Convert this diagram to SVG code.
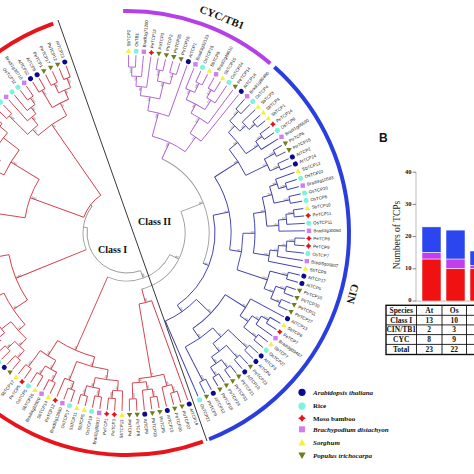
<svg xmlns="http://www.w3.org/2000/svg" width="474" height="474" viewBox="0 0 474 474">
<style>
.br{fill:none;stroke-width:.9}
.R{stroke:#d23c4b}.P{stroke:#b15fd6}.B{stroke:#3a3cae}.G{stroke:#9b9b9b}
.lv text{font-family:"Liberation Sans",Arial,sans-serif;font-size:4.4px;fill:#222}
.lv .lf{text-anchor:end}
.bs text{font-family:"Liberation Sans",Arial,sans-serif;font-size:3px;fill:#555;text-anchor:end}
.bs .bf{text-anchor:start}
.ser{font-family:"Liberation Serif","Times New Roman",serif;font-weight:bold;fill:#111}
.tb text{font-family:"Liberation Serif","Times New Roman",serif;font-weight:bold;font-size:7.5px;text-anchor:middle;fill:#111}
.lg text{font-family:"Liberation Serif","Times New Roman",serif;font-weight:bold;font-size:7px;fill:#111}
</style>
<defs>
<circle id="at" r="2.5" fill="#0b0b8e"/>
<circle id="os" r="2.5" fill="#7df2dc"/>
<path id="pe" d="M0-2.9L1.2-1.2L2.9 0L1.2 1.2L0 2.9L-1.2 1.2L-2.9 0L-1.2-1.2Z" fill="#e3141c"/>
<rect id="bd" x="-2.2" y="-2.2" width="4.4" height="4.4" fill="#d17df0"/>
<path id="sb" d="M0-2.8L2.7 2H-2.7Z" fill="#f2f23a"/>
<path id="pt" d="M-2.7-2H2.7L0 2.8Z" fill="#6d7e1b"/>
</defs>
<rect width="474" height="474" fill="#fff"/>
<g id="tree" transform="translate(127 233)">
<g id="branches" class="br">
<g class="G">
<circle r="82" pathLength="360" stroke-dasharray="86.6 360" transform="rotate(-64.85)"/>
<circle r="58" pathLength="360" stroke-dasharray="96.73 360" transform="rotate(-21.55)"/>
<circle r="48" pathLength="360" stroke-dasharray="86.93 360" transform="rotate(26.8)"/>
<circle r="40" pathLength="360" stroke-dasharray="117.43 360" transform="rotate(70.27)"/>
<circle r="44" pathLength="360" stroke-dasharray="59.77 360" transform="rotate(157.83)"/>
<path transform="rotate(-21.55)" d="M58 0H82"/>
<path transform="rotate(26.8)" d="M48 0H58"/>
<path transform="rotate(70.27)" d="M40 0H48"/>
<path transform="rotate(187.7)" d="M40 0H44"/>
</g>
<g class="P">
<path transform="rotate(-89.5)" d="M166 0H178"/>
<path transform="rotate(-87.1)" d="M166 0H178"/>
<path transform="rotate(-84.7)" d="M157 0H178"/>
<path transform="rotate(-82.3)" d="M147 0H178"/>
<path transform="rotate(-79.9)" d="M166 0H178"/>
<path transform="rotate(-77.5)" d="M166 0H178"/>
<path transform="rotate(-75.1)" d="M166 0H178"/>
<path transform="rotate(-72.7)" d="M166 0H178"/>
<path transform="rotate(-70.3)" d="M124 0H178"/>
<path transform="rotate(-67.9)" d="M156 0H178"/>
<path transform="rotate(-65.5)" d="M166 0H178"/>
<path transform="rotate(-63.1)" d="M166 0H178"/>
<path transform="rotate(-60.7)" d="M166 0H178"/>
<path transform="rotate(-58.3)" d="M166 0H178"/>
<path transform="rotate(-55.9)" d="M157 0H178"/>
<path transform="rotate(-53.5)" d="M136 0H178"/>
<path transform="rotate(-51.1)" d="M118 0H178"/>
<path transform="rotate(-88.3)" d="M157 0H166"/>
<path transform="rotate(-86.5)" d="M147 0H157"/>
<path transform="rotate(-84.4)" d="M138 0H147"/>
<path transform="rotate(-78.7)" d="M155 0H166"/>
<path transform="rotate(-73.9)" d="M155 0H166"/>
<path transform="rotate(-76.3)" d="M138 0H155"/>
<path transform="rotate(-80.35)" d="M124 0H138"/>
<path transform="rotate(-75.33)" d="M100 0H124"/>
<path transform="rotate(-64.3)" d="M156 0H166"/>
<path transform="rotate(-66.1)" d="M146 0H156"/>
<path transform="rotate(-59.5)" d="M157 0H166"/>
<path transform="rotate(-57.7)" d="M146 0H157"/>
<path transform="rotate(-61.9)" d="M136 0H146"/>
<path transform="rotate(-57.7)" d="M118 0H136"/>
<path transform="rotate(-54.4)" d="M100 0H118"/>
<path transform="rotate(-64.85)" d="M82 0H100"/>
<circle r="166" pathLength="360" stroke-dasharray="2.4 360" transform="rotate(-89.5)"/>
<circle r="157" pathLength="360" stroke-dasharray="3.6 360" transform="rotate(-88.3)"/>
<circle r="147" pathLength="360" stroke-dasharray="4.2 360" transform="rotate(-86.5)"/>
<circle r="166" pathLength="360" stroke-dasharray="2.4 360" transform="rotate(-79.9)"/>
<circle r="166" pathLength="360" stroke-dasharray="2.4 360" transform="rotate(-75.1)"/>
<circle r="155" pathLength="360" stroke-dasharray="4.8 360" transform="rotate(-78.7)"/>
<circle r="138" pathLength="360" stroke-dasharray="8.1 360" transform="rotate(-84.4)"/>
<circle r="124" pathLength="360" stroke-dasharray="10.05 360" transform="rotate(-80.35)"/>
<circle r="166" pathLength="360" stroke-dasharray="2.4 360" transform="rotate(-65.5)"/>
<circle r="156" pathLength="360" stroke-dasharray="3.6 360" transform="rotate(-67.9)"/>
<circle r="166" pathLength="360" stroke-dasharray="2.4 360" transform="rotate(-60.7)"/>
<circle r="157" pathLength="360" stroke-dasharray="3.6 360" transform="rotate(-59.5)"/>
<circle r="146" pathLength="360" stroke-dasharray="8.4 360" transform="rotate(-66.1)"/>
<circle r="136" pathLength="360" stroke-dasharray="8.4 360" transform="rotate(-61.9)"/>
<circle r="118" pathLength="360" stroke-dasharray="6.6 360" transform="rotate(-57.7)"/>
<circle r="100" pathLength="360" stroke-dasharray="20.93 360" transform="rotate(-75.33)"/>
</g>
<g class="B">
<path transform="rotate(-48.7)" d="M165 0H178"/>
<path transform="rotate(-46.3)" d="M165 0H178"/>
<path transform="rotate(-43.9)" d="M160 0H178"/>
<path transform="rotate(-41.5)" d="M168 0H178"/>
<path transform="rotate(-39.1)" d="M168 0H178"/>
<path transform="rotate(-36.7)" d="M166 0H178"/>
<path transform="rotate(-34.3)" d="M166 0H178"/>
<path transform="rotate(-31.9)" d="M158 0H178"/>
<path transform="rotate(-29.5)" d="M168 0H178"/>
<path transform="rotate(-27.1)" d="M168 0H178"/>
<path transform="rotate(-24.7)" d="M166 0H178"/>
<path transform="rotate(-22.3)" d="M166 0H178"/>
<path transform="rotate(-19.9)" d="M158 0H178"/>
<path transform="rotate(-17.5)" d="M166 0H178"/>
<path transform="rotate(-15.1)" d="M166 0H178"/>
<path transform="rotate(-12.7)" d="M166 0H178"/>
<path transform="rotate(-10.3)" d="M166 0H178"/>
<path transform="rotate(-7.9)" d="M168 0H178"/>
<path transform="rotate(-5.5)" d="M168 0H178"/>
<path transform="rotate(-3.1)" d="M160 0H178"/>
<path transform="rotate(-0.7)" d="M152 0H178"/>
<path transform="rotate(1.7)" d="M168 0H178"/>
<path transform="rotate(4.1)" d="M168 0H178"/>
<path transform="rotate(6.5)" d="M160 0H178"/>
<path transform="rotate(8.9)" d="M152 0H178"/>
<path transform="rotate(11.3)" d="M144 0H178"/>
<path transform="rotate(13.7)" d="M166 0H178"/>
<path transform="rotate(16.1)" d="M166 0H178"/>
<path transform="rotate(18.5)" d="M168 0H178"/>
<path transform="rotate(20.9)" d="M168 0H178"/>
<path transform="rotate(23.3)" d="M168 0H178"/>
<path transform="rotate(25.7)" d="M168 0H178"/>
<path transform="rotate(28.1)" d="M140 0H178"/>
<path transform="rotate(30.5)" d="M166 0H178"/>
<path transform="rotate(32.9)" d="M166 0H178"/>
<path transform="rotate(35.3)" d="M158 0H178"/>
<path transform="rotate(37.7)" d="M166 0H178"/>
<path transform="rotate(40.1)" d="M166 0H178"/>
<path transform="rotate(42.5)" d="M166 0H178"/>
<path transform="rotate(44.9)" d="M166 0H178"/>
<path transform="rotate(47.3)" d="M166 0H178"/>
<path transform="rotate(49.7)" d="M166 0H178"/>
<path transform="rotate(52.1)" d="M168 0H178"/>
<path transform="rotate(54.5)" d="M168 0H178"/>
<path transform="rotate(56.9)" d="M168 0H178"/>
<path transform="rotate(59.3)" d="M168 0H178"/>
<path transform="rotate(61.7)" d="M166 0H178"/>
<path transform="rotate(64.1)" d="M166 0H178"/>
<path transform="rotate(66.5)" d="M96 0H178"/>
<path transform="rotate(-47.5)" d="M152 0H165"/>
<path transform="rotate(-40.3)" d="M160 0H168"/>
<path transform="rotate(-42.1)" d="M152 0H160"/>
<path transform="rotate(-44.8)" d="M143 0H152"/>
<path transform="rotate(-35.5)" d="M158 0H166"/>
<path transform="rotate(-33.7)" d="M143 0H158"/>
<path transform="rotate(-39.25)" d="M132 0H143"/>
<path transform="rotate(-28.3)" d="M156 0H168"/>
<path transform="rotate(-23.5)" d="M156 0H166"/>
<path transform="rotate(-25.9)" d="M132 0H156"/>
<path transform="rotate(-32.58)" d="M104 0H132"/>
<path transform="rotate(-16.3)" d="M158 0H166"/>
<path transform="rotate(-18.1)" d="M150 0H158"/>
<path transform="rotate(-11.5)" d="M150 0H166"/>
<path transform="rotate(-14.8)" d="M140 0H150"/>
<path transform="rotate(-6.7)" d="M160 0H168"/>
<path transform="rotate(-4.9)" d="M152 0H160"/>
<path transform="rotate(-2.8)" d="M140 0H152"/>
<path transform="rotate(-8.8)" d="M128 0H140"/>
<path transform="rotate(2.9)" d="M160 0H168"/>
<path transform="rotate(4.7)" d="M152 0H160"/>
<path transform="rotate(6.8)" d="M144 0H152"/>
<path transform="rotate(9.05)" d="M128 0H144"/>
<path transform="rotate(0.13)" d="M116 0H128"/>
<path transform="rotate(14.9)" d="M148 0H166"/>
<path transform="rotate(19.7)" d="M158 0H168"/>
<path transform="rotate(24.5)" d="M158 0H168"/>
<path transform="rotate(22.1)" d="M148 0H158"/>
<path transform="rotate(18.5)" d="M116 0H148"/>
<path transform="rotate(9.31)" d="M104 0H116"/>
<path transform="rotate(-11.64)" d="M88 0H104"/>
<path transform="rotate(31.7)" d="M158 0H166"/>
<path transform="rotate(33.5)" d="M150 0H158"/>
<path transform="rotate(38.9)" d="M150 0H166"/>
<path transform="rotate(36.2)" d="M140 0H150"/>
<path transform="rotate(32.15)" d="M116 0H140"/>
<path transform="rotate(43.7)" d="M140 0H166"/>
<path transform="rotate(48.5)" d="M150 0H166"/>
<path transform="rotate(53.3)" d="M158 0H168"/>
<path transform="rotate(58.1)" d="M158 0H168"/>
<path transform="rotate(55.7)" d="M150 0H158"/>
<path transform="rotate(52.1)" d="M140 0H150"/>
<path transform="rotate(47.9)" d="M128 0H140"/>
<path transform="rotate(62.9)" d="M128 0H166"/>
<path transform="rotate(55.4)" d="M116 0H128"/>
<path transform="rotate(43.78)" d="M96 0H116"/>
<path transform="rotate(55.14)" d="M88 0H96"/>
<path transform="rotate(21.75)" d="M82 0H88"/>
<circle r="165" pathLength="360" stroke-dasharray="2.4 360" transform="rotate(-48.7)"/>
<circle r="168" pathLength="360" stroke-dasharray="2.4 360" transform="rotate(-41.5)"/>
<circle r="160" pathLength="360" stroke-dasharray="3.6 360" transform="rotate(-43.9)"/>
<circle r="152" pathLength="360" stroke-dasharray="5.4 360" transform="rotate(-47.5)"/>
<circle r="166" pathLength="360" stroke-dasharray="2.4 360" transform="rotate(-36.7)"/>
<circle r="158" pathLength="360" stroke-dasharray="3.6 360" transform="rotate(-35.5)"/>
<circle r="143" pathLength="360" stroke-dasharray="11.1 360" transform="rotate(-44.8)"/>
<circle r="168" pathLength="360" stroke-dasharray="2.4 360" transform="rotate(-29.5)"/>
<circle r="166" pathLength="360" stroke-dasharray="2.4 360" transform="rotate(-24.7)"/>
<circle r="156" pathLength="360" stroke-dasharray="4.8 360" transform="rotate(-28.3)"/>
<circle r="132" pathLength="360" stroke-dasharray="13.35 360" transform="rotate(-39.25)"/>
<circle r="166" pathLength="360" stroke-dasharray="2.4 360" transform="rotate(-17.5)"/>
<circle r="158" pathLength="360" stroke-dasharray="3.6 360" transform="rotate(-19.9)"/>
<circle r="166" pathLength="360" stroke-dasharray="2.4 360" transform="rotate(-12.7)"/>
<circle r="150" pathLength="360" stroke-dasharray="6.6 360" transform="rotate(-18.1)"/>
<circle r="168" pathLength="360" stroke-dasharray="2.4 360" transform="rotate(-7.9)"/>
<circle r="160" pathLength="360" stroke-dasharray="3.6 360" transform="rotate(-6.7)"/>
<circle r="152" pathLength="360" stroke-dasharray="4.2 360" transform="rotate(-4.9)"/>
<circle r="140" pathLength="360" stroke-dasharray="12 360" transform="rotate(-14.8)"/>
<circle r="168" pathLength="360" stroke-dasharray="2.4 360" transform="rotate(1.7)"/>
<circle r="160" pathLength="360" stroke-dasharray="3.6 360" transform="rotate(2.9)"/>
<circle r="152" pathLength="360" stroke-dasharray="4.2 360" transform="rotate(4.7)"/>
<circle r="144" pathLength="360" stroke-dasharray="4.5 360" transform="rotate(6.8)"/>
<circle r="128" pathLength="360" stroke-dasharray="17.85 360" transform="rotate(-8.8)"/>
<circle r="166" pathLength="360" stroke-dasharray="2.4 360" transform="rotate(13.7)"/>
<circle r="168" pathLength="360" stroke-dasharray="2.4 360" transform="rotate(18.5)"/>
<circle r="168" pathLength="360" stroke-dasharray="2.4 360" transform="rotate(23.3)"/>
<circle r="158" pathLength="360" stroke-dasharray="4.8 360" transform="rotate(19.7)"/>
<circle r="148" pathLength="360" stroke-dasharray="7.2 360" transform="rotate(14.9)"/>
<circle r="116" pathLength="360" stroke-dasharray="18.37 360" transform="rotate(0.13)"/>
<circle r="104" pathLength="360" stroke-dasharray="41.89 360" transform="rotate(-32.58)"/>
<circle r="166" pathLength="360" stroke-dasharray="2.4 360" transform="rotate(30.5)"/>
<circle r="158" pathLength="360" stroke-dasharray="3.6 360" transform="rotate(31.7)"/>
<circle r="166" pathLength="360" stroke-dasharray="2.4 360" transform="rotate(37.7)"/>
<circle r="150" pathLength="360" stroke-dasharray="5.4 360" transform="rotate(33.5)"/>
<circle r="140" pathLength="360" stroke-dasharray="8.1 360" transform="rotate(28.1)"/>
<circle r="166" pathLength="360" stroke-dasharray="2.4 360" transform="rotate(42.5)"/>
<circle r="166" pathLength="360" stroke-dasharray="2.4 360" transform="rotate(47.3)"/>
<circle r="168" pathLength="360" stroke-dasharray="2.4 360" transform="rotate(52.1)"/>
<circle r="168" pathLength="360" stroke-dasharray="2.4 360" transform="rotate(56.9)"/>
<circle r="158" pathLength="360" stroke-dasharray="4.8 360" transform="rotate(53.3)"/>
<circle r="150" pathLength="360" stroke-dasharray="7.2 360" transform="rotate(48.5)"/>
<circle r="140" pathLength="360" stroke-dasharray="8.4 360" transform="rotate(43.7)"/>
<circle r="166" pathLength="360" stroke-dasharray="2.4 360" transform="rotate(61.7)"/>
<circle r="128" pathLength="360" stroke-dasharray="15 360" transform="rotate(47.9)"/>
<circle r="116" pathLength="360" stroke-dasharray="23.25 360" transform="rotate(32.15)"/>
<circle r="96" pathLength="360" stroke-dasharray="22.72 360" transform="rotate(43.78)"/>
<circle r="88" pathLength="360" stroke-dasharray="66.78 360" transform="rotate(-11.64)"/>
</g>
<g class="R">
<circle r="46" pathLength="360" stroke-dasharray="35.23 360" transform="rotate(200)"/>
<path transform="rotate(217.6)" d="M44 0H46"/>
<circle r="72" pathLength="360" stroke-dasharray="10.35 360" transform="rotate(70)"/>
<path transform="rotate(75.18)" d="M58 0H72"/>
<path transform="rotate(70)" d="M72 0H178"/>
<path transform="rotate(72.4)" d="M166 0H178"/>
<path transform="rotate(74.8)" d="M166 0H178"/>
<path transform="rotate(77.2)" d="M158 0H178"/>
<path transform="rotate(79.6)" d="M166 0H178"/>
<path transform="rotate(82)" d="M166 0H178"/>
<path transform="rotate(84.4)" d="M158 0H178"/>
<path transform="rotate(86.8)" d="M166 0H178"/>
<path transform="rotate(89.2)" d="M166 0H178"/>
<path transform="rotate(91.6)" d="M158 0H178"/>
<path transform="rotate(94)" d="M166 0H178"/>
<path transform="rotate(96.4)" d="M166 0H178"/>
<path transform="rotate(98.8)" d="M166 0H178"/>
<path transform="rotate(101.2)" d="M166 0H178"/>
<path transform="rotate(103.6)" d="M168 0H178"/>
<path transform="rotate(106)" d="M168 0H178"/>
<path transform="rotate(108.4)" d="M166 0H178"/>
<path transform="rotate(110.8)" d="M166 0H178"/>
<path transform="rotate(113.2)" d="M158 0H178"/>
<path transform="rotate(115.6)" d="M166 0H178"/>
<path transform="rotate(118)" d="M166 0H178"/>
<path transform="rotate(120.4)" d="M166 0H178"/>
<path transform="rotate(122.8)" d="M166 0H178"/>
<path transform="rotate(125.2)" d="M166 0H178"/>
<path transform="rotate(127.6)" d="M166 0H178"/>
<path transform="rotate(130)" d="M166 0H178"/>
<path transform="rotate(132.4)" d="M166 0H178"/>
<path transform="rotate(134.8)" d="M166 0H178"/>
<path transform="rotate(137.2)" d="M166 0H178"/>
<path transform="rotate(139.6)" d="M166 0H178"/>
<path transform="rotate(142)" d="M166 0H178"/>
<path transform="rotate(144.4)" d="M158 0H178"/>
<path transform="rotate(146.8)" d="M166 0H178"/>
<path transform="rotate(149.2)" d="M166 0H178"/>
<path transform="rotate(151.6)" d="M166 0H178"/>
<path transform="rotate(154)" d="M166 0H178"/>
<path transform="rotate(156.4)" d="M166 0H178"/>
<path transform="rotate(158.8)" d="M166 0H178"/>
<path transform="rotate(161.2)" d="M166 0H178"/>
<path transform="rotate(163.6)" d="M166 0H178"/>
<path transform="rotate(166)" d="M166 0H178"/>
<path transform="rotate(168.4)" d="M166 0H178"/>
<path transform="rotate(170.8)" d="M166 0H178"/>
<path transform="rotate(173.2)" d="M166 0H178"/>
<path transform="rotate(175.6)" d="M166 0H178"/>
<path transform="rotate(178)" d="M166 0H178"/>
<path transform="rotate(180.4)" d="M166 0H178"/>
<path transform="rotate(182.8)" d="M166 0H178"/>
<path transform="rotate(185.2)" d="M166 0H178"/>
<path transform="rotate(187.6)" d="M166 0H178"/>
<path transform="rotate(190)" d="M166 0H178"/>
<path transform="rotate(192.4)" d="M166 0H178"/>
<path transform="rotate(194.8)" d="M158 0H178"/>
<path transform="rotate(197.2)" d="M166 0H178"/>
<path transform="rotate(199.6)" d="M166 0H178"/>
<path transform="rotate(202)" d="M166 0H178"/>
<path transform="rotate(204.4)" d="M166 0H178"/>
<path transform="rotate(206.8)" d="M166 0H178"/>
<path transform="rotate(209.2)" d="M166 0H178"/>
<path transform="rotate(211.6)" d="M158 0H178"/>
<path transform="rotate(214)" d="M166 0H178"/>
<path transform="rotate(216.4)" d="M166 0H178"/>
<path transform="rotate(218.8)" d="M166 0H178"/>
<path transform="rotate(221.2)" d="M166 0H178"/>
<path transform="rotate(223.6)" d="M166 0H178"/>
<path transform="rotate(226)" d="M166 0H178"/>
<path transform="rotate(228.4)" d="M150 0H178"/>
<path transform="rotate(230.8)" d="M158 0H178"/>
<path transform="rotate(233.2)" d="M166 0H178"/>
<path transform="rotate(235.6)" d="M166 0H178"/>
<path transform="rotate(238)" d="M166 0H178"/>
<path transform="rotate(240.4)" d="M166 0H178"/>
<path transform="rotate(242.8)" d="M166 0H178"/>
<path transform="rotate(245.2)" d="M166 0H178"/>
<path transform="rotate(247.6)" d="M166 0H178"/>
<path transform="rotate(250)" d="M166 0H178"/>
<path transform="rotate(73.6)" d="M158 0H166"/>
<path transform="rotate(75.4)" d="M146 0H158"/>
<path transform="rotate(80.8)" d="M158 0H166"/>
<path transform="rotate(82.6)" d="M150 0H158"/>
<path transform="rotate(88)" d="M150 0H166"/>
<path transform="rotate(85.3)" d="M146 0H150"/>
<path transform="rotate(80.35)" d="M72 0H146"/>
<path transform="rotate(95.2)" d="M158 0H166"/>
<path transform="rotate(93.4)" d="M148 0H158"/>
<path transform="rotate(100)" d="M158 0H166"/>
<path transform="rotate(104.8)" d="M158 0H168"/>
<path transform="rotate(102.4)" d="M148 0H158"/>
<path transform="rotate(97.9)" d="M138 0H148"/>
<path transform="rotate(109.6)" d="M158 0H166"/>
<path transform="rotate(111.4)" d="M138 0H158"/>
<path transform="rotate(104.65)" d="M128 0H138"/>
<path transform="rotate(116.8)" d="M156 0H166"/>
<path transform="rotate(121.6)" d="M156 0H166"/>
<path transform="rotate(119.2)" d="M146 0H156"/>
<path transform="rotate(126.4)" d="M146 0H166"/>
<path transform="rotate(122.8)" d="M128 0H146"/>
<path transform="rotate(113.73)" d="M48 0H128"/>
<path transform="rotate(131.2)" d="M156 0H166"/>
<path transform="rotate(136)" d="M156 0H166"/>
<path transform="rotate(133.6)" d="M146 0H156"/>
<path transform="rotate(140.8)" d="M158 0H166"/>
<path transform="rotate(142.6)" d="M146 0H158"/>
<path transform="rotate(138.1)" d="M137 0H146"/>
<path transform="rotate(148)" d="M156 0H166"/>
<path transform="rotate(152.8)" d="M156 0H166"/>
<path transform="rotate(150.4)" d="M148 0H156"/>
<path transform="rotate(157.6)" d="M148 0H166"/>
<path transform="rotate(154)" d="M137 0H148"/>
<path transform="rotate(146.05)" d="M120 0H137"/>
<path transform="rotate(162.4)" d="M156 0H166"/>
<path transform="rotate(167.2)" d="M156 0H166"/>
<path transform="rotate(164.8)" d="M146 0H156"/>
<path transform="rotate(172)" d="M156 0H166"/>
<path transform="rotate(176.8)" d="M156 0H166"/>
<path transform="rotate(174.4)" d="M146 0H156"/>
<path transform="rotate(169.6)" d="M120 0H146"/>
<path transform="rotate(157.83)" d="M44 0H120"/>
<path transform="rotate(181.6)" d="M156 0H166"/>
<path transform="rotate(186.4)" d="M156 0H166"/>
<path transform="rotate(184)" d="M146 0H156"/>
<path transform="rotate(191.2)" d="M158 0H166"/>
<path transform="rotate(193)" d="M146 0H158"/>
<path transform="rotate(188.5)" d="M103 0H146"/>
<path transform="rotate(198.4)" d="M156 0H166"/>
<path transform="rotate(203.2)" d="M156 0H166"/>
<path transform="rotate(200.8)" d="M146 0H156"/>
<path transform="rotate(208)" d="M158 0H166"/>
<path transform="rotate(209.8)" d="M146 0H158"/>
<path transform="rotate(205.3)" d="M136 0H146"/>
<path transform="rotate(215.2)" d="M156 0H166"/>
<path transform="rotate(220)" d="M156 0H166"/>
<path transform="rotate(217.6)" d="M136 0H156"/>
<path transform="rotate(211.45)" d="M103 0H136"/>
<path transform="rotate(200)" d="M46 0H103"/>
<path transform="rotate(248.8)" d="M156 0H166"/>
<path transform="rotate(244)" d="M156 0H166"/>
<path transform="rotate(246.4)" d="M146 0H156"/>
<path transform="rotate(239.2)" d="M146 0H166"/>
<path transform="rotate(242.8)" d="M132 0H146"/>
<path transform="rotate(234.4)" d="M158 0H166"/>
<path transform="rotate(232.6)" d="M150 0H158"/>
<path transform="rotate(230.5)" d="M140 0H150"/>
<path transform="rotate(224.8)" d="M140 0H166"/>
<path transform="rotate(227.65)" d="M132 0H140"/>
<path transform="rotate(235.23)" d="M46 0H132"/>
<circle r="166" pathLength="360" stroke-dasharray="2.4 360" transform="rotate(72.4)"/>
<circle r="158" pathLength="360" stroke-dasharray="3.6 360" transform="rotate(73.6)"/>
<circle r="166" pathLength="360" stroke-dasharray="2.4 360" transform="rotate(79.6)"/>
<circle r="158" pathLength="360" stroke-dasharray="3.6 360" transform="rotate(80.8)"/>
<circle r="166" pathLength="360" stroke-dasharray="2.4 360" transform="rotate(86.8)"/>
<circle r="150" pathLength="360" stroke-dasharray="5.4 360" transform="rotate(82.6)"/>
<circle r="146" pathLength="360" stroke-dasharray="9.9 360" transform="rotate(75.4)"/>
<circle r="166" pathLength="360" stroke-dasharray="2.4 360" transform="rotate(94)"/>
<circle r="158" pathLength="360" stroke-dasharray="3.6 360" transform="rotate(91.6)"/>
<circle r="166" pathLength="360" stroke-dasharray="2.4 360" transform="rotate(98.8)"/>
<circle r="168" pathLength="360" stroke-dasharray="2.4 360" transform="rotate(103.6)"/>
<circle r="158" pathLength="360" stroke-dasharray="4.8 360" transform="rotate(100)"/>
<circle r="148" pathLength="360" stroke-dasharray="9 360" transform="rotate(93.4)"/>
<circle r="166" pathLength="360" stroke-dasharray="2.4 360" transform="rotate(108.4)"/>
<circle r="158" pathLength="360" stroke-dasharray="3.6 360" transform="rotate(109.6)"/>
<circle r="138" pathLength="360" stroke-dasharray="13.5 360" transform="rotate(97.9)"/>
<circle r="166" pathLength="360" stroke-dasharray="2.4 360" transform="rotate(115.6)"/>
<circle r="166" pathLength="360" stroke-dasharray="2.4 360" transform="rotate(120.4)"/>
<circle r="156" pathLength="360" stroke-dasharray="4.8 360" transform="rotate(116.8)"/>
<circle r="166" pathLength="360" stroke-dasharray="2.4 360" transform="rotate(125.2)"/>
<circle r="146" pathLength="360" stroke-dasharray="7.2 360" transform="rotate(119.2)"/>
<circle r="128" pathLength="360" stroke-dasharray="18.15 360" transform="rotate(104.65)"/>
<circle r="166" pathLength="360" stroke-dasharray="2.4 360" transform="rotate(130)"/>
<circle r="166" pathLength="360" stroke-dasharray="2.4 360" transform="rotate(134.8)"/>
<circle r="156" pathLength="360" stroke-dasharray="4.8 360" transform="rotate(131.2)"/>
<circle r="166" pathLength="360" stroke-dasharray="2.4 360" transform="rotate(139.6)"/>
<circle r="158" pathLength="360" stroke-dasharray="3.6 360" transform="rotate(140.8)"/>
<circle r="146" pathLength="360" stroke-dasharray="9 360" transform="rotate(133.6)"/>
<circle r="166" pathLength="360" stroke-dasharray="2.4 360" transform="rotate(146.8)"/>
<circle r="166" pathLength="360" stroke-dasharray="2.4 360" transform="rotate(151.6)"/>
<circle r="156" pathLength="360" stroke-dasharray="4.8 360" transform="rotate(148)"/>
<circle r="166" pathLength="360" stroke-dasharray="2.4 360" transform="rotate(156.4)"/>
<circle r="148" pathLength="360" stroke-dasharray="7.2 360" transform="rotate(150.4)"/>
<circle r="137" pathLength="360" stroke-dasharray="15.9 360" transform="rotate(138.1)"/>
<circle r="166" pathLength="360" stroke-dasharray="2.4 360" transform="rotate(161.2)"/>
<circle r="166" pathLength="360" stroke-dasharray="2.4 360" transform="rotate(166)"/>
<circle r="156" pathLength="360" stroke-dasharray="4.8 360" transform="rotate(162.4)"/>
<circle r="166" pathLength="360" stroke-dasharray="2.4 360" transform="rotate(170.8)"/>
<circle r="166" pathLength="360" stroke-dasharray="2.4 360" transform="rotate(175.6)"/>
<circle r="156" pathLength="360" stroke-dasharray="4.8 360" transform="rotate(172)"/>
<circle r="146" pathLength="360" stroke-dasharray="9.6 360" transform="rotate(164.8)"/>
<circle r="120" pathLength="360" stroke-dasharray="23.55 360" transform="rotate(146.05)"/>
<circle r="166" pathLength="360" stroke-dasharray="2.4 360" transform="rotate(180.4)"/>
<circle r="166" pathLength="360" stroke-dasharray="2.4 360" transform="rotate(185.2)"/>
<circle r="156" pathLength="360" stroke-dasharray="4.8 360" transform="rotate(181.6)"/>
<circle r="166" pathLength="360" stroke-dasharray="2.4 360" transform="rotate(190)"/>
<circle r="158" pathLength="360" stroke-dasharray="3.6 360" transform="rotate(191.2)"/>
<circle r="146" pathLength="360" stroke-dasharray="9 360" transform="rotate(184)"/>
<circle r="166" pathLength="360" stroke-dasharray="2.4 360" transform="rotate(197.2)"/>
<circle r="166" pathLength="360" stroke-dasharray="2.4 360" transform="rotate(202)"/>
<circle r="156" pathLength="360" stroke-dasharray="4.8 360" transform="rotate(198.4)"/>
<circle r="166" pathLength="360" stroke-dasharray="2.4 360" transform="rotate(206.8)"/>
<circle r="158" pathLength="360" stroke-dasharray="3.6 360" transform="rotate(208)"/>
<circle r="146" pathLength="360" stroke-dasharray="9 360" transform="rotate(200.8)"/>
<circle r="166" pathLength="360" stroke-dasharray="2.4 360" transform="rotate(214)"/>
<circle r="166" pathLength="360" stroke-dasharray="2.4 360" transform="rotate(218.8)"/>
<circle r="156" pathLength="360" stroke-dasharray="4.8 360" transform="rotate(215.2)"/>
<circle r="136" pathLength="360" stroke-dasharray="12.3 360" transform="rotate(205.3)"/>
<circle r="103" pathLength="360" stroke-dasharray="22.95 360" transform="rotate(188.5)"/>
<circle r="166" pathLength="360" stroke-dasharray="2.4 360" transform="rotate(247.6)"/>
<circle r="166" pathLength="360" stroke-dasharray="2.4 360" transform="rotate(242.8)"/>
<circle r="156" pathLength="360" stroke-dasharray="4.8 360" transform="rotate(244)"/>
<circle r="166" pathLength="360" stroke-dasharray="2.4 360" transform="rotate(238)"/>
<circle r="146" pathLength="360" stroke-dasharray="7.2 360" transform="rotate(239.2)"/>
<circle r="166" pathLength="360" stroke-dasharray="2.4 360" transform="rotate(233.2)"/>
<circle r="158" pathLength="360" stroke-dasharray="3.6 360" transform="rotate(230.8)"/>
<circle r="150" pathLength="360" stroke-dasharray="4.2 360" transform="rotate(228.4)"/>
<circle r="166" pathLength="360" stroke-dasharray="2.4 360" transform="rotate(223.6)"/>
<circle r="140" pathLength="360" stroke-dasharray="5.7 360" transform="rotate(224.8)"/>
<circle r="132" pathLength="360" stroke-dasharray="15.15 360" transform="rotate(227.65)"/>
</g>
</g>
<g id="clade-arcs" fill="none" stroke-width="4">
<circle r="222" pathLength="360" stroke-dasharray="180.6 360" transform="rotate(70)" stroke="#e8141c"/>
<circle r="222" pathLength="360" stroke-dasharray="41.2 360" transform="rotate(-91)" stroke="#b640e8"/>
<circle r="222" pathLength="360" stroke-dasharray="116.7 360" transform="rotate(-48.4)" stroke="#2a3ee0"/>
</g>
<g id="leaves" class="lv">
<g id="p0" transform="rotate(-89.5)"><use href="#sb" transform="translate(182 0)rotate(89.5)"/><text x="186.5" y="1.5">SbTCP2</text></g>
<g id="p1" transform="rotate(-87.1)"><use href="#os" x="182"/><text x="186.5" y="1.5">OsTB1</text></g>
<g id="p2" transform="rotate(-84.7)"><use href="#bd" transform="translate(182 0)rotate(84.7)"/><text x="186.5" y="1.5">Bradi1g71280</text></g>
<g id="p3" transform="rotate(-82.3)"><use href="#pe" transform="translate(182 0)rotate(82.3)"/><text x="186.5" y="1.5">PeTCP13</text></g>
<g id="p4" transform="rotate(-79.9)"><use href="#pt" transform="translate(182 0)rotate(79.9)"/><text x="186.5" y="1.5">PtrTCP3</text></g>
<g id="p5" transform="rotate(-77.5)"><use href="#pt" transform="translate(182 0)rotate(77.5)"/><text x="186.5" y="1.5">PtrTCP2</text></g>
<g id="p6" transform="rotate(-75.1)"><use href="#pt" transform="translate(182 0)rotate(75.1)"/><text x="186.5" y="1.5">PtrTCP25</text></g>
<g id="p7" transform="rotate(-72.7)"><use href="#pt" transform="translate(182 0)rotate(72.7)"/><text x="186.5" y="1.5">PtrTCP26</text></g>
<g id="p8" transform="rotate(-70.3)"><use href="#at" x="182"/><text x="186.5" y="1.5">AtTCP1</text></g>
<g id="p9" transform="rotate(-67.9)"><use href="#bd" transform="translate(182 0)rotate(67.9)"/><text x="186.5" y="1.5">Bradi3g32120</text></g>
<g id="p10" transform="rotate(-65.5)"><use href="#os" x="182"/><text x="186.5" y="1.5">OsTCP15</text></g>
<g id="p11" transform="rotate(-63.1)"><use href="#sb" transform="translate(182 0)rotate(63.1)"/><text x="186.5" y="1.5">SbTCP8</text></g>
<g id="p12" transform="rotate(-60.7)"><use href="#bd" transform="translate(182 0)rotate(60.7)"/><text x="186.5" y="1.5">Bradi2g48610</text></g>
<g id="p13" transform="rotate(-58.3)"><use href="#sb" transform="translate(182 0)rotate(58.3)"/><text x="186.5" y="1.5">SbTCP15</text></g>
<g id="p14" transform="rotate(-55.9)"><use href="#os" x="182"/><text x="186.5" y="1.5">OsTCP24</text></g>
<g id="p15" transform="rotate(-53.5)"><use href="#pt" transform="translate(182 0)rotate(53.5)"/><text x="186.5" y="1.5">PtrTCP14</text></g>
<g id="p16" transform="rotate(-51.1)"><use href="#at" x="182"/><text x="186.5" y="1.5">AtTCP18</text></g>
<g id="b0" transform="rotate(-48.7)"><use href="#bd" transform="translate(182 0)rotate(48.7)"/><text x="186.5" y="1.5">Bradi1g80480</text></g>
<g id="b1" transform="rotate(-46.3)"><use href="#os" x="182"/><text x="186.5" y="1.5">OsTCP4</text></g>
<g id="b2" transform="rotate(-43.9)"><use href="#sb" transform="translate(182 0)rotate(43.9)"/><text x="186.5" y="1.5">SbTCP3</text></g>
<g id="b3" transform="rotate(-41.5)"><use href="#sb" transform="translate(182 0)rotate(41.5)"/><text x="186.5" y="1.5">SbTCP4</text></g>
<g id="b4" transform="rotate(-39.1)"><use href="#sb" transform="translate(182 0)rotate(39.1)"/><text x="186.5" y="1.5">SbTCP1</text></g>
<g id="b5" transform="rotate(-36.7)"><use href="#pe" transform="translate(182 0)rotate(36.7)"/><text x="186.5" y="1.5">PeTCP14</text></g>
<g id="b6" transform="rotate(-34.3)"><use href="#os" x="182"/><text x="186.5" y="1.5">OsTCP8</text></g>
<g id="b7" transform="rotate(-31.9)"><use href="#bd" transform="translate(182 0)rotate(31.9)"/><text x="186.5" y="1.5">Bradi1g65590</text></g>
<g id="b8" transform="rotate(-29.5)"><use href="#pt" transform="translate(182 0)rotate(29.5)"/><text x="186.5" y="1.5">PtrTCP6</text></g>
<g id="b9" transform="rotate(-27.1)"><use href="#pt" transform="translate(182 0)rotate(27.1)"/><text x="186.5" y="1.5">PtrTCP15</text></g>
<g id="b10" transform="rotate(-24.7)"><use href="#at" x="182"/><text x="186.5" y="1.5">AtTCP2</text></g>
<g id="b11" transform="rotate(-22.3)"><use href="#at" x="182"/><text x="186.5" y="1.5">AtTCP24</text></g>
<g id="b12" transform="rotate(-19.9)"><use href="#sb" transform="translate(182 0)rotate(19.9)"/><text x="186.5" y="1.5">SbTCP12</text></g>
<g id="b13" transform="rotate(-17.5)"><use href="#os" x="182"/><text x="186.5" y="1.5">OsTCP22</text></g>
<g id="b14" transform="rotate(-15.1)"><use href="#bd" transform="translate(182 0)rotate(15.1)"/><text x="186.5" y="1.5">Bradi4g10583</text></g>
<g id="b15" transform="rotate(-12.7)"><use href="#os" x="182"/><text x="186.5" y="1.5">OsTCP20</text></g>
<g id="b16" transform="rotate(-10.3)"><use href="#os" x="182"/><text x="186.5" y="1.5">OsTCP6</text></g>
<g id="b17" transform="rotate(-7.9)"><use href="#sb" transform="translate(182 0)rotate(7.9)"/><text x="186.5" y="1.5">SbTCP10</text></g>
<g id="b18" transform="rotate(-5.5)"><use href="#pe" transform="translate(182 0)rotate(5.5)"/><text x="186.5" y="1.5">PeTCP11</text></g>
<g id="b19" transform="rotate(-3.1)"><use href="#os" x="182"/><text x="186.5" y="1.5">OsTCP11</text></g>
<g id="b20" transform="rotate(-0.7)"><use href="#bd" transform="translate(182 0)rotate(0.7)"/><text x="186.5" y="1.5">Bradi3g30060</text></g>
<g id="b21" transform="rotate(1.7)"><use href="#pe" transform="translate(182 0)rotate(-1.7)"/><text x="186.5" y="1.5">PeTCP8</text></g>
<g id="b22" transform="rotate(4.1)"><use href="#pe" transform="translate(182 0)rotate(-4.1)"/><text x="186.5" y="1.5">PeTCP9</text></g>
<g id="b23" transform="rotate(6.5)"><use href="#os" x="182"/><text x="186.5" y="1.5">OsTCP7</text></g>
<g id="b24" transform="rotate(8.9)"><use href="#bd" transform="translate(182 0)rotate(-8.9)"/><text x="186.5" y="1.5">Bradi5g00807</text></g>
<g id="b25" transform="rotate(11.3)"><use href="#sb" transform="translate(182 0)rotate(-11.3)"/><text x="186.5" y="1.5">SbTCP9</text></g>
<g id="b26" transform="rotate(13.7)"><use href="#at" x="182"/><text x="186.5" y="1.5">AtTCP17</text></g>
<g id="b27" transform="rotate(16.1)"><use href="#at" x="182"/><text x="186.5" y="1.5">AtTCP5</text></g>
<g id="b28" transform="rotate(18.5)"><use href="#pt" transform="translate(182 0)rotate(-18.5)"/><text x="186.5" y="1.5">PtrTCP10</text></g>
<g id="b29" transform="rotate(20.9)"><use href="#pt" transform="translate(182 0)rotate(-20.9)"/><text x="186.5" y="1.5">PtrTCP30</text></g>
<g id="b30" transform="rotate(23.3)"><use href="#pt" transform="translate(182 0)rotate(-23.3)"/><text x="186.5" y="1.5">PtrTCP11</text></g>
<g id="b31" transform="rotate(25.7)"><use href="#pt" transform="translate(182 0)rotate(-25.7)"/><text x="186.5" y="1.5">PtrTCP27</text></g>
<g id="b32" transform="rotate(28.1)"><use href="#at" x="182"/><text x="186.5" y="1.5">AtTCP13</text></g>
<g id="b33" transform="rotate(30.5)"><use href="#sb" transform="translate(182 0)rotate(-30.5)"/><text x="186.5" y="1.5">SbTCP6</text></g>
<g id="b34" transform="rotate(32.9)"><use href="#pe" transform="translate(182 0)rotate(-32.9)"/><text x="186.5" y="1.5">PeTCP7</text></g>
<g id="b35" transform="rotate(35.3)"><use href="#bd" transform="translate(182 0)rotate(-35.3)"/><text x="186.5" y="1.5">Bradi3g09467</text></g>
<g id="b36" transform="rotate(37.7)"><use href="#sb" transform="translate(182 0)rotate(-37.7)"/><text x="186.5" y="1.5">SbTCP7</text></g>
<g id="b37" transform="rotate(40.1)"><use href="#os" x="182"/><text x="186.5" y="1.5">OsTCP27</text></g>
<g id="b38" transform="rotate(42.5)"><use href="#at" x="182"/><text x="186.5" y="1.5">AtTCP3</text></g>
<g id="b39" transform="rotate(44.9)"><use href="#at" x="182"/><text x="186.5" y="1.5">AtTCP4</text></g>
<g id="b40" transform="rotate(47.3)"><use href="#pt" transform="translate(182 0)rotate(-47.3)"/><text x="186.5" y="1.5">PtrTCP23</text></g>
<g id="b41" transform="rotate(49.7)"><use href="#at" x="182"/><text x="186.5" y="1.5">AtTCP10</text></g>
<g id="b42" transform="rotate(52.1)"><use href="#pt" transform="translate(182 0)rotate(-52.1)"/><text x="186.5" y="1.5">PtrTCP21</text></g>
<g id="b43" transform="rotate(54.5)"><use href="#pt" transform="translate(182 0)rotate(-54.5)"/><text x="186.5" y="1.5">PtrTCP33</text></g>
<g id="b44" transform="rotate(56.9)"><use href="#pt" transform="translate(182 0)rotate(-56.9)"/><text x="186.5" y="1.5">PtrTCP24</text></g>
<g id="b45" transform="rotate(59.3)"><use href="#pt" transform="translate(182 0)rotate(-59.3)"/><text x="186.5" y="1.5">PtrTCP18</text></g>
<g id="b46" transform="rotate(61.7)"><use href="#at" x="182"/><text x="186.5" y="1.5">AtTCP12</text></g>
<g id="b47" transform="rotate(64.1)"><use href="#pt" transform="translate(182 0)rotate(-64.1)"/><text x="186.5" y="1.5">PtrTCP9</text></g>
<g id="b48" transform="rotate(66.5)"><use href="#os" x="182"/><text x="186.5" y="1.5">OsTCP21</text></g>
<g id="r0" transform="rotate(70)"><use href="#at" x="182"/><text x="186.5" y="1.5">AtTCP14</text></g>
<g id="r1" transform="rotate(72.4)"><use href="#pt" transform="translate(182 0)rotate(-72.4)"/><text x="186.5" y="1.5">PtrTCP22</text></g>
<g id="r2" transform="rotate(74.8)"><use href="#pt" transform="translate(182 0)rotate(-74.8)"/><text x="186.5" y="1.5">PtrTCP20</text></g>
<g id="r3" transform="rotate(77.2)"><use href="#at" x="182"/><text x="186.5" y="1.5">AtTCP15</text></g>
<g id="r4" transform="rotate(79.6)"><use href="#pt" transform="translate(182 0)rotate(-79.6)"/><text x="186.5" y="1.5">PtrTCP5</text></g>
<g id="r5" transform="rotate(82)"><use href="#pt" transform="translate(182 0)rotate(-82)"/><text x="186.5" y="1.5">PtrTCP19</text></g>
<g id="r6" transform="rotate(84.4)"><use href="#at" x="182"/><text x="186.5" y="1.5">AtTCP9</text></g>
<g id="r7" transform="rotate(86.8)"><use href="#pt" transform="translate(182 0)rotate(-86.8)"/><text x="186.5" y="1.5">PtrTCP8</text></g>
<g id="r8" transform="rotate(89.2)"><use href="#pt" transform="translate(182 0)rotate(-89.2)"/><text x="186.5" y="1.5">PtrTCP4</text></g>
<g id="r9" transform="rotate(91.6)"><use href="#sb" transform="translate(182 0)rotate(-91.6)"/><text class="lf" transform="rotate(180)" x="-186.5" y="1.5">SbTCP13</text></g>
<g id="r10" transform="rotate(94)"><use href="#pe" transform="translate(182 0)rotate(-94)"/><text class="lf" transform="rotate(180)" x="-186.5" y="1.5">PeTCP3</text></g>
<g id="r11" transform="rotate(96.4)"><use href="#pe" transform="translate(182 0)rotate(-96.4)"/><text class="lf" transform="rotate(180)" x="-186.5" y="1.5">PeTCP1</text></g>
<g id="r12" transform="rotate(98.8)"><use href="#bd" transform="translate(182 0)rotate(-98.8)"/><text class="lf" transform="rotate(180)" x="-186.5" y="1.5">Bradi1g00917</text></g>
<g id="r13" transform="rotate(101.2)"><use href="#os" x="182"/><text class="lf" transform="rotate(180)" x="-186.5" y="1.5">OsTCP19</text></g>
<g id="r14" transform="rotate(103.6)"><use href="#sb" transform="translate(182 0)rotate(-103.6)"/><text class="lf" transform="rotate(180)" x="-186.5" y="1.5">SbTCP5</text></g>
<g id="r15" transform="rotate(106)"><use href="#sb" transform="translate(182 0)rotate(-106)"/><text class="lf" transform="rotate(180)" x="-186.5" y="1.5">SbTCP11</text></g>
<g id="r16" transform="rotate(108.4)"><use href="#os" x="182"/><text class="lf" transform="rotate(180)" x="-186.5" y="1.5">OsTCP17</text></g>
<g id="r17" transform="rotate(110.8)"><use href="#bd" transform="translate(182 0)rotate(-110.8)"/><text class="lf" transform="rotate(180)" x="-186.5" y="1.5">Bradi2g12650</text></g>
<g id="r18" transform="rotate(113.2)"><use href="#pe" transform="translate(182 0)rotate(-113.2)"/><text class="lf" transform="rotate(180)" x="-186.5" y="1.5">PeTCP12</text></g>
<g id="r19" transform="rotate(115.6)"><use href="#sb" transform="translate(182 0)rotate(-115.6)"/><text class="lf" transform="rotate(180)" x="-186.5" y="1.5">SbTCP14</text></g>
<g id="r20" transform="rotate(118)"><use href="#bd" transform="translate(182 0)rotate(-118)"/><text class="lf" transform="rotate(180)" x="-186.5" y="1.5">Bradi4g32820</text></g>
<g id="r21" transform="rotate(120.4)"><use href="#sb" transform="translate(182 0)rotate(-120.4)"/><text class="lf" transform="rotate(180)" x="-186.5" y="1.5">SbTCP16</text></g>
<g id="r22" transform="rotate(122.8)"><use href="#os" x="182"/><text class="lf" transform="rotate(180)" x="-186.5" y="1.5">OsTCP5</text></g>
<g id="r23" transform="rotate(125.2)"><use href="#pe" transform="translate(182 0)rotate(-125.2)"/><text class="lf" transform="rotate(180)" x="-186.5" y="1.5">PeTCP5</text></g>
<g id="r24" transform="rotate(127.6)"><use href="#sb" transform="translate(182 0)rotate(-127.6)"/><text class="lf" transform="rotate(180)" x="-186.5" y="1.5">SbTCP17</text></g>
<g id="r25" transform="rotate(130)"><use href="#pt" transform="translate(182 0)rotate(-130)"/></g>
<g id="r26" transform="rotate(132.4)"><use href="#at" x="182"/></g>
<g id="r27" transform="rotate(134.8)"><use href="#os" x="182"/></g>
<g id="r65" transform="rotate(226)"><use href="#os" x="182"/></g>
<g id="r66" transform="rotate(228.4)"><use href="#bd" transform="translate(182 0)rotate(-228.4)"/></g>
<g id="r67" transform="rotate(230.8)"><use href="#os" x="182"/></g>
<g id="r68" transform="rotate(233.2)"><use href="#os" x="182"/><text class="lf" transform="rotate(180)" x="-186.5" y="1.5">OsTCP12</text></g>
<g id="r69" transform="rotate(235.6)"><use href="#bd" transform="translate(182 0)rotate(-235.6)"/><text class="lf" transform="rotate(180)" x="-186.5" y="1.5">Bradi1g30710</text></g>
<g id="r70" transform="rotate(238)"><use href="#at" x="182"/><text class="lf" transform="rotate(180)" x="-186.5" y="1.5">AtTCP22</text></g>
<g id="r71" transform="rotate(240.4)"><use href="#at" x="182"/><text class="lf" transform="rotate(180)" x="-186.5" y="1.5">AtTCP8</text></g>
<g id="r72" transform="rotate(242.8)"><use href="#pt" transform="translate(182 0)rotate(-242.8)"/><text class="lf" transform="rotate(180)" x="-186.5" y="1.5">PtrTCP1</text></g>
<g id="r73" transform="rotate(245.2)"><use href="#pt" transform="translate(182 0)rotate(-245.2)"/><text class="lf" transform="rotate(180)" x="-186.5" y="1.5">PtrTCP17</text></g>
<g id="r74" transform="rotate(247.6)"><use href="#pt" transform="translate(182 0)rotate(-247.6)"/><text class="lf" transform="rotate(180)" x="-186.5" y="1.5">PtrTCP12</text></g>
<g id="r75" transform="rotate(250)"><use href="#at" x="182"/><text class="lf" transform="rotate(180)" x="-186.5" y="1.5">AtTCP23</text></g>
</g>
<g id="bootstrap" class="bs">
<text transform="rotate(-88.3)" x="165">100</text>
<text transform="rotate(-86.5)" x="156">99</text>
<text transform="rotate(-84.4)" x="146">84</text>
<text transform="rotate(-78.7)" x="165">100</text>
<text transform="rotate(-73.9)" x="165">97</text>
<text transform="rotate(-76.3)" x="154">88</text>
<text transform="rotate(-80.35)" x="137">63</text>
<text transform="rotate(-75.33)" x="123">100</text>
<text transform="rotate(-64.3)" x="165">100</text>
<text transform="rotate(-66.1)" x="155">91</text>
<text transform="rotate(-59.5)" x="165">100</text>
<text transform="rotate(-57.7)" x="156">77</text>
<text transform="rotate(-61.9)" x="145">96</text>
<text transform="rotate(-57.7)" x="135">100</text>
<text transform="rotate(-54.4)" x="117">71</text>
<text transform="rotate(-64.85)" x="99">100</text>
<text transform="rotate(-47.5)" x="164">100</text>
<text transform="rotate(-40.3)" x="167">99</text>
<text transform="rotate(-42.1)" x="159">86</text>
<text transform="rotate(-44.8)" x="151">72</text>
<text transform="rotate(-35.5)" x="165">100</text>
<text transform="rotate(-33.7)" x="157">94</text>
<text transform="rotate(-39.25)" x="142">58</text>
<text transform="rotate(-28.3)" x="167">100</text>
<text transform="rotate(-23.5)" x="165">100</text>
<text transform="rotate(-25.9)" x="155">97</text>
<text transform="rotate(-32.58)" x="131">88</text>
<text transform="rotate(-16.3)" x="165">100</text>
<text transform="rotate(-18.1)" x="157">99</text>
<text transform="rotate(-11.5)" x="165">100</text>
<text transform="rotate(-14.8)" x="149">74</text>
<text transform="rotate(-6.7)" x="167">100</text>
<text transform="rotate(-4.9)" x="159">93</text>
<text transform="rotate(-2.8)" x="151">80</text>
<text transform="rotate(-8.8)" x="139">65</text>
<text transform="rotate(2.9)" x="167">100</text>
<text transform="rotate(4.7)" x="159">99</text>
<text transform="rotate(6.8)" x="151">79</text>
<text transform="rotate(9.05)" x="143">100</text>
<text transform="rotate(0.13)" x="127">52</text>
<text transform="rotate(14.9)" x="165">100</text>
<text transform="rotate(19.7)" x="167">100</text>
<text transform="rotate(24.5)" x="167">98</text>
<text transform="rotate(22.1)" x="157">84</text>
<text transform="rotate(18.5)" x="147">100</text>
<text transform="rotate(9.31)" x="115">61</text>
<text transform="rotate(-11.64)" x="103">45</text>
<text transform="rotate(31.7)" x="165">100</text>
<text transform="rotate(33.5)" x="157">95</text>
<text transform="rotate(38.9)" x="165">100</text>
<text transform="rotate(36.2)" x="149">88</text>
<text transform="rotate(32.15)" x="139">70</text>
<text transform="rotate(43.7)" x="165">100</text>
<text transform="rotate(48.5)" x="165">99</text>
<text transform="rotate(53.3)" x="167">100</text>
<text transform="rotate(58.1)" x="167">97</text>
<text transform="rotate(55.7)" x="157">86</text>
<text transform="rotate(52.1)" x="149">74</text>
<text transform="rotate(47.9)" x="139">91</text>
<text transform="rotate(62.9)" x="165">100</text>
<text transform="rotate(55.4)" x="127">66</text>
<text transform="rotate(43.78)" x="115">83</text>
<text transform="rotate(55.14)" x="95">59</text>
<text transform="rotate(21.75)" x="87">87</text>
<text transform="rotate(-21.55)" x="81">95</text>
<text transform="rotate(26.8)" x="57">87</text>
<text transform="rotate(70.27)" x="47">66</text>
<text transform="rotate(75.18)" x="71">88</text>
<text transform="rotate(73.6)" x="165">100</text>
<text transform="rotate(75.4)" x="157">98</text>
<text transform="rotate(80.8)" x="165">100</text>
<text transform="rotate(82.6)" x="157">94</text>
<text transform="rotate(88)" x="165">100</text>
<text transform="rotate(85.3)" x="149">76</text>
<text transform="rotate(80.35)" x="145">97</text>
<text class="bf" transform="rotate(-84.8)" x="-165">100</text>
<text class="bf" transform="rotate(-86.6)" x="-157">92</text>
<text class="bf" transform="rotate(-80)" x="-165">100</text>
<text class="bf" transform="rotate(-75.2)" x="-167">100</text>
<text class="bf" transform="rotate(-77.6)" x="-157">85</text>
<text class="bf" transform="rotate(-82.1)" x="-147">73</text>
<text class="bf" transform="rotate(-70.4)" x="-165">100</text>
<text class="bf" transform="rotate(-68.6)" x="-157">96</text>
<text class="bf" transform="rotate(-75.35)" x="-137">81</text>
<text class="bf" transform="rotate(-63.2)" x="-165">100</text>
<text class="bf" transform="rotate(-58.4)" x="-165">99</text>
<text class="bf" transform="rotate(-60.8)" x="-155">87</text>
<text class="bf" transform="rotate(-53.6)" x="-165">100</text>
<text class="bf" transform="rotate(-57.2)" x="-145">64</text>
<text class="bf" transform="rotate(-66.27)" x="-127">91</text>
<text class="bf" transform="rotate(-48.8)" x="-165">100</text>
<text class="bf" transform="rotate(-44)" x="-165">98</text>
<text class="bf" transform="rotate(-46.4)" x="-155">82</text>
<text class="bf" transform="rotate(-41.9)" x="-145">67</text>
<text class="bf" transform="rotate(-33.95)" x="-136">90</text>
<text class="bf" transform="rotate(-22.17)" x="-119">100</text>
<text class="bf" transform="rotate(31.45)" x="-135">100</text>
<text class="bf" transform="rotate(20)" x="-102">100</text>
<text class="bf" transform="rotate(68.8)" x="-165">100</text>
<text class="bf" transform="rotate(64)" x="-165">99</text>
<text class="bf" transform="rotate(66.4)" x="-155">84</text>
<text class="bf" transform="rotate(59.2)" x="-165">100</text>
<text class="bf" transform="rotate(62.8)" x="-145">73</text>
<text class="bf" transform="rotate(54.4)" x="-165">100</text>
<text class="bf" transform="rotate(52.6)" x="-157">96</text>
<text class="bf" transform="rotate(50.5)" x="-149">88</text>
<text class="bf" transform="rotate(44.8)" x="-165">100</text>
<text class="bf" transform="rotate(47.65)" x="-139">70</text>
<text class="bf" transform="rotate(55.23)" x="-131">57</text>
</g>
</g>
<path id="divider" d="M58 20L207 441" stroke="#222" stroke-width="0.9"/>
<g id="clade-labels" class="ser">
<text x="222" y="21" font-size="11" text-anchor="middle" transform="rotate(22 222 17)">CYC/TB1</text>
<text x="353" y="298" font-size="11" text-anchor="middle" transform="rotate(105 353 294)">CIN</text>
<text x="138" y="225" font-size="10">Class II</text>
<text x="98" y="253" font-size="10">Class I</text>
</g>
<g id="chart">
<text x="379" y="142" font-family="Liberation Sans,Arial,sans-serif" font-weight="bold" font-size="12" fill="#111">B</text>
<text transform="translate(400 235) rotate(-90)" text-anchor="middle" font-family="Liberation Serif,Times New Roman,serif" font-size="9.5" fill="#222">Numbers of TCPs</text>
<path d="M416 172V301M416 301H474" stroke="#aaa" stroke-width="0.8"/>
<path d="M412.5 172.2H416M412.5 204.4H416M412.5 236.6H416M412.5 268.8H416M412.5 301H416" stroke="#555" stroke-width="0.7"/>
<g class="ser" font-size="6.5" text-anchor="end">
<text x="411.5" y="173.6">40</text>
<text x="411.5" y="205.8">30</text>
<text x="411.5" y="238">20</text>
<text x="411.5" y="270.2">10</text>
<text x="411.5" y="302">0</text>
</g>
<g stroke="#fff" stroke-width="0.5">
<rect x="422" y="226.9" width="19" height="25.8" fill="#2c46ef"/>
<rect x="422" y="252.7" width="19" height="6.4" fill="#c23ff0"/>
<rect x="422" y="259.1" width="19" height="41.9" fill="#f01212"/>
<rect x="446" y="230.1" width="19" height="29" fill="#2c46ef"/>
<rect x="446" y="259.1" width="19" height="9.7" fill="#c23ff0"/>
<rect x="446" y="268.8" width="19" height="32.2" fill="#f01212"/>
<rect x="470" y="251" width="19" height="14.6" fill="#2c46ef"/>
<rect x="470" y="265.6" width="19" height="3.2" fill="#c23ff0"/>
<rect x="470" y="268.8" width="19" height="32.2" fill="#f01212"/>
</g>
</g>
<g id="table" class="tb">
<rect x="386" y="305.3" width="100" height="49.2" fill="#fff" stroke="#111" stroke-width="1.4"/>
<path d="M416.5 305.3V354.5M442 305.3V354.5M466.5 305.3V354.5M386 315.3H474M386 324.9H474M386 334.6H474M386 344.4H474" stroke="#111" stroke-width="0.9"/>
<text x="401.2" y="313">Species</text><text x="429.2" y="313">At</text><text x="454.2" y="313">Os</text>
<text x="401.2" y="322.6">Class I</text><text x="429.2" y="322.6">13</text><text x="454.2" y="322.6">10</text>
<text x="401.2" y="332.3">CIN/TB1</text><text x="429.2" y="332.3">2</text><text x="454.2" y="332.3">3</text>
<text x="401.2" y="342">CYC</text><text x="429.2" y="342">8</text><text x="454.2" y="342">9</text>
<text x="401.2" y="352">Total</text><text x="429.2" y="352">23</text><text x="454.2" y="352">22</text>
</g>
<g id="legend" class="lg">
<use href="#at" transform="translate(302 392.3) scale(1.45)"/>
<use href="#os" transform="translate(302 406) scale(1.45)"/>
<use href="#pe" transform="translate(302 418.3) scale(1.3)"/>
<use href="#bd" transform="translate(302 429.3) scale(1.35)"/>
<use href="#sb" transform="translate(302 442.7) scale(1.35)"/>
<use href="#pt" transform="translate(302 455.3) scale(1.35)"/>
<text x="313" y="394.7" font-style="italic">Arabidopsis thaliana</text>
<text x="313" y="408.4">Rice</text>
<text x="313" y="420.7">Moso bamboo</text>
<text x="313" y="431.7" font-style="italic">Brachypodium distachyon</text>
<text x="313" y="445.1" font-style="italic">Sorghum</text>
<text x="313" y="457.7" font-style="italic">Populus trichocarpa</text>
</g>
</svg>
